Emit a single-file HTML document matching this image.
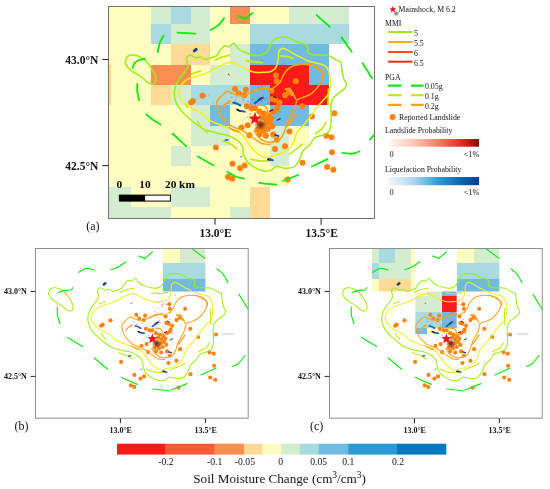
<!DOCTYPE html>
<html><head><meta charset="utf-8"><title>Soil Moisture Change</title>
<style>html,body{margin:0;padding:0;background:#fff}svg{display:block}</style></head>
<body>
<svg width="550" height="489" viewBox="0 0 550 489" font-family="'Liberation Serif', serif">
<defs>
<radialGradient id="brown"><stop offset="0" stop-color="#6a2a08" stop-opacity="1"/><stop offset="0.35" stop-color="#8a3c10" stop-opacity="0.92"/><stop offset="0.7" stop-color="#b06020" stop-opacity="0.5"/><stop offset="1" stop-color="#c08040" stop-opacity="0"/></radialGradient>
<radialGradient id="shadow"><stop offset="0" stop-color="#4a4a4a" stop-opacity="0.85"/><stop offset="0.5" stop-color="#6a6a6a" stop-opacity="0.5"/><stop offset="1" stop-color="#909090" stop-opacity="0"/></radialGradient>
<linearGradient id="lsg" x1="0" x2="1" y1="0" y2="0"><stop offset="0" stop-color="#fffaf7"/><stop offset="0.06" stop-color="#fff0e8"/><stop offset="0.35" stop-color="#ffb7a3"/><stop offset="0.7" stop-color="#fb4a3a"/><stop offset="0.85" stop-color="#e01c1c"/><stop offset="1" stop-color="#8e0608"/></linearGradient>
<linearGradient id="lqg" x1="0" x2="1" y1="0" y2="0"><stop offset="0" stop-color="#f4f9fe"/><stop offset="0.3" stop-color="#a9d4f0"/><stop offset="0.55" stop-color="#2a9fd4"/><stop offset="0.8" stop-color="#0a62b0"/><stop offset="1" stop-color="#043f94"/></linearGradient>
<clipPath id="clipA"><rect x="108.5" y="6.5" width="266" height="212"/></clipPath>
<clipPath id="clipB"><rect x="268.05" y="6.3" width="53.05" height="53.2"/></clipPath>
<clipPath id="clipC"><rect x="161.95" y="6.3" width="53.05" height="53.2"/><rect x="268.05" y="6.3" width="53.05" height="53.2"/><rect x="216.2" y="59.7" width="51.6" height="52.85"/></clipPath>

<g id="grid" shape-rendering="crispEdges">
<rect x="108.00" y="6.00" width="43.10" height="17.90" fill="#fffdbf"/>
<rect x="151.10" y="6.00" width="19.75" height="17.90" fill="#d4edd0"/>
<rect x="170.85" y="6.00" width="19.75" height="17.90" fill="#a8dbe0"/>
<rect x="190.60" y="6.00" width="19.75" height="17.90" fill="#d4edd0"/>
<rect x="210.35" y="6.00" width="19.75" height="17.90" fill="#fffdbf"/>
<rect x="230.10" y="6.00" width="19.75" height="17.90" fill="#fd8d50"/>
<rect x="249.85" y="6.00" width="39.50" height="17.90" fill="#fffdbf"/>
<rect x="289.35" y="6.00" width="59.25" height="17.90" fill="#d4edd0"/>
<rect x="108.00" y="23.90" width="43.10" height="20.40" fill="#fffdbf"/>
<rect x="151.10" y="23.90" width="19.75" height="20.40" fill="#a8dbe0"/>
<rect x="170.85" y="23.90" width="39.50" height="20.40" fill="#d4edd0"/>
<rect x="210.35" y="23.90" width="39.50" height="20.40" fill="#fffdbf"/>
<rect x="249.85" y="23.90" width="98.75" height="20.40" fill="#a8dbe0"/>
<rect x="108.00" y="44.30" width="62.85" height="20.50" fill="#fffdbf"/>
<rect x="170.85" y="44.30" width="39.50" height="20.50" fill="#fdda96"/>
<rect x="210.35" y="44.30" width="19.75" height="20.50" fill="#fffdbf"/>
<rect x="230.10" y="44.30" width="19.75" height="20.50" fill="#d4edd0"/>
<rect x="249.85" y="44.30" width="79.00" height="20.50" fill="#72bbe0"/>
<rect x="108.00" y="64.80" width="2.90" height="20.30" fill="#fdda96"/>
<rect x="110.90" y="64.80" width="40.20" height="20.30" fill="#fffdbf"/>
<rect x="151.10" y="64.80" width="39.50" height="20.30" fill="#fd8d50"/>
<rect x="190.60" y="64.80" width="19.75" height="20.30" fill="#fffdbf"/>
<rect x="210.35" y="64.80" width="39.50" height="20.30" fill="#d4edd0"/>
<rect x="249.85" y="64.80" width="59.25" height="20.30" fill="#fb1b18"/>
<rect x="309.10" y="64.80" width="19.75" height="20.30" fill="#72bbe0"/>
<rect x="108.00" y="85.10" width="2.90" height="20.30" fill="#fdda96"/>
<rect x="110.90" y="85.10" width="40.20" height="20.30" fill="#fffdbf"/>
<rect x="151.10" y="85.10" width="19.75" height="20.30" fill="#fdda96"/>
<rect x="170.85" y="85.10" width="19.75" height="20.30" fill="#d4edd0"/>
<rect x="190.60" y="85.10" width="59.25" height="20.30" fill="#a8dbe0"/>
<rect x="249.85" y="85.10" width="19.75" height="20.30" fill="#72bbe0"/>
<rect x="269.60" y="85.10" width="59.25" height="20.30" fill="#fb1b18"/>
<rect x="108.00" y="105.40" width="82.60" height="20.20" fill="#fffdbf"/>
<rect x="190.60" y="105.40" width="19.75" height="20.20" fill="#d4edd0"/>
<rect x="210.35" y="105.40" width="19.75" height="20.20" fill="#72bbe0"/>
<rect x="230.10" y="105.40" width="39.50" height="20.20" fill="#fffdbf"/>
<rect x="269.60" y="105.40" width="39.50" height="20.20" fill="#72bbe0"/>
<rect x="108.00" y="125.60" width="82.60" height="20.30" fill="#fffdbf"/>
<rect x="190.60" y="125.60" width="39.50" height="20.30" fill="#d4edd0"/>
<rect x="230.10" y="125.60" width="39.50" height="20.30" fill="#fffdbf"/>
<rect x="269.60" y="125.60" width="19.75" height="20.30" fill="#d4edd0"/>
<rect x="289.35" y="125.60" width="19.75" height="20.30" fill="#fffdbf"/>
<rect x="108.00" y="145.90" width="62.85" height="20.30" fill="#fffdbf"/>
<rect x="170.85" y="145.90" width="19.75" height="20.30" fill="#d4edd0"/>
<rect x="190.60" y="145.90" width="79.00" height="20.30" fill="#fffdbf"/>
<rect x="269.60" y="145.90" width="19.75" height="20.30" fill="#d4edd0"/>
<rect x="108.00" y="166.20" width="181.35" height="20.30" fill="#fffdbf"/>
<rect x="108.00" y="186.50" width="23.35" height="20.40" fill="#d4edd0"/>
<rect x="131.35" y="186.50" width="39.50" height="20.40" fill="#fffdbf"/>
<rect x="170.85" y="186.50" width="39.50" height="20.40" fill="#d4edd0"/>
<rect x="210.35" y="186.50" width="39.50" height="20.40" fill="#fffdbf"/>
<rect x="249.85" y="186.50" width="19.75" height="20.40" fill="#fdda96"/>
<rect x="108.00" y="206.90" width="62.85" height="12.10" fill="#d4edd0"/>
<rect x="170.85" y="206.90" width="59.25" height="12.10" fill="#fffdbf"/>
<rect x="230.10" y="206.90" width="19.75" height="12.10" fill="#d4edd0"/>
<rect x="249.85" y="206.90" width="19.75" height="12.10" fill="#fdda96"/>
</g>
<g id="ov" clip-path="url(#clipA)">
<g fill="#ff8212">
<circle cx="235.0" cy="88.9" r="3.0"/>
<circle cx="245.9" cy="89.8" r="3.0"/>
<circle cx="238.6" cy="93.5" r="3.0"/>
<circle cx="244.1" cy="95.3" r="3.0"/>
<circle cx="276.8" cy="81.3" r="3.0"/>
<circle cx="295.9" cy="81.3" r="3.0"/>
<circle cx="271.4" cy="90.7" r="3.0"/>
<circle cx="285.0" cy="95.3" r="3.0"/>
<circle cx="288.6" cy="92.5" r="3.0"/>
<circle cx="275.0" cy="99.8" r="3.0"/>
<circle cx="279.5" cy="102.5" r="3.0"/>
<circle cx="277.7" cy="107.1" r="3.0"/>
<circle cx="272.3" cy="98.9" r="3.0"/>
<circle cx="246.8" cy="106.2" r="3.0"/>
<circle cx="251.4" cy="108.0" r="3.0"/>
<circle cx="255.0" cy="108.0" r="3.0"/>
<circle cx="259.5" cy="111.6" r="3.0"/>
<circle cx="264.1" cy="113.5" r="3.0"/>
<circle cx="268.6" cy="115.3" r="3.0"/>
<circle cx="273.2" cy="111.6" r="3.0"/>
<circle cx="276.8" cy="109.8" r="3.0"/>
<circle cx="302.3" cy="106.2" r="3.0"/>
<circle cx="247.7" cy="125.3" r="3.0"/>
<circle cx="241.4" cy="127.5" r="3.0"/>
<circle cx="249.5" cy="135.3" r="3.0"/>
<circle cx="257.7" cy="129.8" r="3.0"/>
<circle cx="263.2" cy="130.7" r="3.0"/>
<circle cx="267.7" cy="128.9" r="3.0"/>
<circle cx="272.3" cy="126.2" r="3.0"/>
<circle cx="269.5" cy="122.5" r="3.0"/>
<circle cx="259.5" cy="134.4" r="3.0"/>
<circle cx="265.9" cy="135.8" r="3.0"/>
<circle cx="273.2" cy="134.4" r="3.0"/>
<circle cx="276.8" cy="139.8" r="3.0"/>
<circle cx="289.5" cy="131.6" r="3.0"/>
<circle cx="215.9" cy="147.5" r="3.0"/>
<circle cx="275.0" cy="148.9" r="3.0"/>
<circle cx="285.0" cy="146.2" r="3.0"/>
<circle cx="312.0" cy="116.4" r="3.0"/>
<circle cx="334.4" cy="113.3" r="3.0"/>
<circle cx="326.3" cy="135.7" r="3.0"/>
<circle cx="331.5" cy="137.2" r="3.0"/>
<circle cx="332.0" cy="152.3" r="3.0"/>
<circle cx="302.5" cy="162.8" r="3.0"/>
<circle cx="327.1" cy="167.0" r="3.0"/>
<circle cx="333.4" cy="169.8" r="3.0"/>
<circle cx="287.7" cy="179.6" r="3.0"/>
<circle cx="244.6" cy="165.6" r="3.0"/>
<circle cx="240.0" cy="168.3" r="3.0"/>
<circle cx="232.5" cy="163.8" r="3.0"/>
<circle cx="228.0" cy="176.9" r="3.0"/>
<circle cx="232.3" cy="178.7" r="3.0"/>
<circle cx="191.0" cy="102.4" r="3.0"/>
<circle cx="192.9" cy="101.0" r="3.0"/>
<circle cx="202.5" cy="95.7" r="3.0"/>
<circle cx="276.0" cy="75.4" r="3.0"/>
<circle cx="266.0" cy="119.0" r="3.0"/>
<circle cx="262.0" cy="117.0" r="3.0"/>
<circle cx="271.0" cy="118.5" r="3.0"/>
<circle cx="266.0" cy="124.0" r="3.0"/>
<circle cx="262.5" cy="127.0" r="3.0"/>
</g>
<circle cx="228.5" cy="74.2" r="0.7" fill="#e02020"/>
<circle cx="229.5" cy="75.0" r="0.5" fill="#e02020"/>
<circle cx="262.0" cy="60.5" r="0.5" fill="#e02020"/>
<circle cx="284.0" cy="64.0" r="0.5" fill="#e02020"/>
<circle cx="232.0" cy="97.0" r="0.5" fill="#e02020"/>
<circle cx="236.0" cy="99.0" r="0.4" fill="#e02020"/>
<circle cx="243.0" cy="100.0" r="0.5" fill="#e02020"/>
<circle cx="248.0" cy="101.5" r="0.6" fill="#e02020"/>
<circle cx="252.0" cy="99.5" r="0.5" fill="#e02020"/>
<circle cx="250.0" cy="104.0" r="0.5" fill="#e02020"/>
<circle cx="246.0" cy="112.0" r="0.5" fill="#e02020"/>
<circle cx="250.0" cy="114.0" r="0.6" fill="#e02020"/>
<circle cx="247.0" cy="117.0" r="0.5" fill="#e02020"/>
<circle cx="251.0" cy="120.0" r="0.5" fill="#e02020"/>
<circle cx="244.0" cy="119.0" r="0.4" fill="#e02020"/>
<circle cx="256.0" cy="112.0" r="0.5" fill="#e02020"/>
<circle cx="262.0" cy="101.0" r="0.6" fill="#e02020"/>
<circle cx="265.0" cy="99.0" r="0.5" fill="#e02020"/>
<circle cx="268.0" cy="103.0" r="0.6" fill="#e02020"/>
<circle cx="270.0" cy="105.0" r="0.5" fill="#e02020"/>
<circle cx="266.0" cy="108.0" r="0.5" fill="#e02020"/>
<circle cx="280.0" cy="112.0" r="0.5" fill="#e02020"/>
<circle cx="283.0" cy="108.0" r="0.4" fill="#e02020"/>
<circle cx="290.0" cy="101.0" r="0.5" fill="#e02020"/>
<circle cx="206.0" cy="96.0" r="0.4" fill="#e02020"/>
<circle cx="209.0" cy="95.0" r="0.4" fill="#e02020"/>
<circle cx="213.0" cy="103.0" r="0.4" fill="#e02020"/>
<circle cx="262.1" cy="73.1" r="0.7" fill="#e02020"/>
<circle cx="268.5" cy="72.7" r="0.4" fill="#e02020"/>
<circle cx="266.4" cy="97.5" r="0.4" fill="#e02020"/>
<circle cx="261.8" cy="86.1" r="0.6" fill="#e02020"/>
<circle cx="276.3" cy="94.8" r="0.6" fill="#e02020"/>
<circle cx="261.6" cy="97.8" r="0.6" fill="#e02020"/>
<circle cx="276.8" cy="75.8" r="0.6" fill="#e02020"/>
<circle cx="263.5" cy="96.0" r="0.6" fill="#e02020"/>
<circle cx="258.3" cy="88.2" r="0.7" fill="#e02020"/>
<circle cx="269.2" cy="75.3" r="0.7" fill="#e02020"/>
<circle cx="263.3" cy="98.3" r="0.6" fill="#e02020"/>
<circle cx="256.2" cy="78.8" r="0.6" fill="#e02020"/>
<circle cx="278.0" cy="85.3" r="0.7" fill="#e02020"/>
<circle cx="267.0" cy="78.6" r="0.7" fill="#e02020"/>
<circle cx="260.2" cy="79.2" r="0.4" fill="#e02020"/>
<circle cx="258.1" cy="83.9" r="0.6" fill="#e02020"/>
<circle cx="269.5" cy="89.4" r="0.6" fill="#e02020"/>
<circle cx="259.8" cy="90.2" r="0.4" fill="#e02020"/>
<circle cx="266.7" cy="76.1" r="0.7" fill="#e02020"/>
<circle cx="263.2" cy="80.7" r="0.6" fill="#e02020"/>
<circle cx="272.5" cy="76.0" r="0.6" fill="#e02020"/>
<circle cx="258.6" cy="71.8" r="0.5" fill="#e02020"/>
<circle cx="263.2" cy="87.5" r="0.5" fill="#e02020"/>
<circle cx="259.2" cy="98.0" r="0.6" fill="#e02020"/>
<circle cx="267.9" cy="71.3" r="0.4" fill="#e02020"/>
<circle cx="279.3" cy="98.6" r="0.6" fill="#e02020"/>
<circle cx="228.4" cy="103.5" r="0.4" fill="#e02020"/>
<circle cx="246.6" cy="106.7" r="0.4" fill="#e02020"/>
<circle cx="235.0" cy="101.0" r="0.5" fill="#e02020"/>
<circle cx="235.0" cy="102.5" r="0.4" fill="#e02020"/>
<circle cx="236.0" cy="96.2" r="0.4" fill="#e02020"/>
<circle cx="238.9" cy="105.5" r="0.5" fill="#e02020"/>
<circle cx="251.9" cy="110.9" r="0.5" fill="#e02020"/>
<circle cx="251.6" cy="107.0" r="0.4" fill="#e02020"/>
<circle cx="230.7" cy="97.6" r="0.4" fill="#e02020"/>
<circle cx="242.3" cy="121.2" r="0.4" fill="#e02020"/>
<path d="M128.2 55.9C127.2 56.5 126.3 58.7 126.0 59.6C125.7 60.5 125.2 62.2 125.5 63.2C125.8 64.2 127.2 66.6 128.2 67.8C129.2 69.0 132.2 71.3 133.7 72.3C135.2 73.3 138.5 75.0 140.0 76.0C141.5 77.0 144.3 79.6 145.5 80.5C146.7 81.4 148.2 82.9 149.2 83.3C150.2 83.7 152.9 84.2 153.7 83.8C154.5 83.4 155.7 81.5 155.9 80.5C156.1 79.5 155.9 77.3 155.5 76.0C155.1 74.7 153.6 71.9 152.8 70.5C152.0 69.1 150.2 66.4 149.2 65.0C148.2 63.6 145.9 60.7 144.6 59.6C143.3 58.5 140.5 57.1 139.1 56.5C137.7 55.9 135.1 55.1 133.7 55.0C132.3 54.9 129.2 55.3 128.2 55.9Z" fill="none" stroke="#9aee16" stroke-width="1.5" stroke-linejoin="round" stroke-linecap="round"/>
<path d="M174.3 93.0C174.3 91.0 175.1 87.6 175.7 85.8C176.3 84.0 178.1 80.4 179.3 78.6C180.5 76.8 184.0 73.1 185.1 71.5C186.2 69.9 187.7 67.0 187.9 65.7C188.1 64.4 187.0 62.0 186.8 61.0C186.6 60.0 186.1 58.6 186.5 57.8C186.9 57.0 188.9 55.0 190.1 55.0C191.3 55.0 194.2 57.6 195.6 57.8C197.0 58.0 199.8 56.7 201.1 56.9C202.4 57.1 204.3 59.5 205.5 59.6C206.7 59.7 209.5 58.3 210.9 57.8C212.3 57.3 215.2 56.8 216.4 55.9C217.6 55.0 219.0 51.8 220.0 50.5C221.0 49.2 223.4 46.4 224.6 45.9C225.8 45.4 227.9 47.1 229.1 46.8C230.3 46.5 232.5 43.0 233.7 43.2C234.9 43.4 236.9 47.5 238.3 48.7C239.7 49.9 242.8 51.5 244.6 52.3C246.4 53.1 250.8 54.6 252.8 55.0C254.8 55.4 258.4 55.7 260.1 55.4C261.8 55.1 265.2 53.5 266.5 52.3C267.8 51.1 269.3 47.4 270.1 45.9C270.9 44.4 271.9 41.5 272.9 40.5C273.9 39.5 276.7 38.1 278.3 37.7C279.9 37.3 283.8 37.0 285.6 37.2C287.4 37.4 291.4 39.0 292.9 39.6C294.4 40.2 295.8 41.7 297.3 42.3C298.8 42.9 303.2 43.4 304.6 44.1C306.0 44.8 307.9 46.8 308.2 47.8C308.5 48.8 306.6 51.4 307.3 52.3C308.0 53.2 311.7 54.7 313.7 55.0C315.7 55.3 320.8 54.9 322.8 55.0C324.8 55.1 327.6 55.3 329.2 55.9C330.8 56.5 334.0 58.8 335.5 59.6C337.0 60.4 340.2 61.0 341.0 62.3C341.8 63.6 341.6 67.5 341.9 69.6C342.2 71.7 343.1 76.9 343.7 78.7C344.3 80.5 346.3 83.0 346.5 84.2C346.7 85.4 345.8 87.2 344.9 88.3C344.0 89.4 340.9 91.5 339.5 92.6C338.1 93.7 335.1 95.8 334.1 97.0C333.1 98.2 331.7 100.7 331.3 102.4C330.9 104.1 330.8 108.2 330.8 110.1C330.8 112.0 331.3 115.8 331.3 117.7C331.3 119.6 331.1 123.5 330.8 125.3C330.5 127.1 329.7 130.6 328.6 131.9C327.5 133.2 323.9 134.4 322.1 135.2C320.3 136.0 316.0 136.7 314.4 138.0C312.8 139.3 310.7 143.9 309.2 145.5C307.7 147.1 304.0 149.4 302.8 151.0C301.6 152.6 301.1 156.3 300.1 158.3C299.1 160.3 296.4 165.2 294.6 166.5C292.8 167.8 287.8 168.3 285.5 168.3C283.2 168.3 278.2 166.3 276.4 166.5C274.6 166.7 272.6 169.5 271.0 170.1C269.4 170.7 265.8 171.3 263.7 171.0C261.6 170.7 256.7 168.6 254.6 167.4C252.5 166.2 248.7 163.5 247.3 161.9C245.9 160.3 244.2 156.4 243.6 154.6C243.0 152.8 243.2 148.9 242.7 147.4C242.2 145.9 240.9 143.8 240.0 142.8C239.1 141.8 237.1 140.1 235.6 139.2C234.1 138.3 230.4 136.2 228.3 135.5C226.2 134.8 221.5 134.2 219.2 133.7C216.9 133.2 212.1 131.9 210.1 131.3C208.1 130.7 205.4 130.2 203.7 129.3C202.0 128.4 198.5 126.0 196.5 124.5C194.5 123.0 189.9 119.1 187.9 117.3C185.9 115.5 182.3 112.1 180.8 110.1C179.3 108.1 176.5 103.7 175.7 101.5C174.9 99.3 174.3 95.0 174.3 93.0Z" fill="none" stroke="#9aee16" stroke-width="1.5" stroke-linejoin="round" stroke-linecap="round"/>
<path d="M178.6 93.0C178.5 91.5 179.3 88.7 180.0 87.2C180.7 85.7 182.9 82.7 184.3 81.5C185.7 80.3 188.7 78.7 190.8 77.9C192.9 77.1 198.7 75.7 200.8 75.0C202.9 74.3 205.3 73.5 207.3 72.6C209.3 71.7 214.3 68.9 216.4 67.8C218.5 66.7 221.7 64.8 223.7 64.1C225.7 63.4 230.1 62.2 231.9 62.3C233.7 62.4 236.6 64.3 238.3 65.1C240.0 65.9 243.4 67.8 245.5 68.7C247.6 69.6 252.1 71.9 254.6 72.3C257.1 72.7 262.9 72.3 265.0 72.2C267.1 72.1 269.5 72.0 270.8 71.5C272.1 71.0 274.4 69.5 275.2 68.5C276.0 67.5 277.0 64.9 277.4 63.5C277.8 62.1 278.2 59.1 278.4 57.6C278.6 56.1 278.3 53.0 278.8 51.8C279.3 50.6 281.3 48.4 282.5 48.2C283.7 48.0 286.8 49.7 288.3 50.4C289.8 51.1 292.6 53.2 294.1 54.0C295.6 54.8 298.2 56.1 299.9 56.9C301.6 57.7 305.4 59.8 307.2 60.5C309.0 61.2 312.5 62.1 314.5 62.7C316.5 63.3 321.6 64.2 323.2 64.9C324.8 65.6 326.7 67.2 327.5 68.5C328.3 69.8 329.3 73.2 329.7 75.1C330.1 77.0 330.5 81.8 330.5 83.8C330.5 85.8 329.9 89.0 329.5 90.5C329.1 92.0 328.4 94.1 327.5 95.5C326.6 96.9 323.5 99.8 322.1 101.4C320.7 103.0 318.0 106.1 316.6 107.9C315.2 109.7 312.9 113.3 311.2 115.5C309.5 117.7 305.3 123.2 303.5 125.3C301.7 127.4 298.1 130.1 297.0 132.0C295.9 133.9 295.4 138.0 294.5 140.0C293.6 142.0 291.8 146.3 290.0 148.0C288.2 149.7 282.5 152.6 280.1 153.7C277.7 154.8 273.1 156.0 271.0 156.5C268.9 157.0 265.8 158.1 263.7 157.4C261.6 156.7 256.7 153.0 254.6 151.0C252.5 149.0 248.8 143.9 247.3 141.9C245.8 139.9 244.4 137.0 242.9 135.5C241.4 134.0 237.7 131.1 235.6 130.1C233.5 129.1 228.6 128.0 226.5 127.3C224.4 126.6 221.6 125.4 219.4 124.5C217.2 123.6 211.6 121.6 209.4 120.2C207.2 118.8 204.2 115.1 202.2 113.7C200.2 112.3 195.7 110.5 193.7 109.4C191.7 108.3 188.1 106.5 186.5 105.1C184.9 103.7 181.8 100.2 180.8 98.7C179.8 97.2 178.7 94.5 178.6 93.0Z" fill="none" stroke="#f2f01c" stroke-width="1.5" stroke-linejoin="round" stroke-linecap="round"/>
<path d="M266.8 88.0C267.2 88.2 269.1 89.7 270.1 89.6C271.1 89.5 273.4 87.8 274.7 86.9C276.0 86.0 279.1 83.8 280.1 82.4C281.1 81.0 282.0 77.6 282.9 76.0C283.8 74.4 286.1 70.9 287.4 69.6C288.7 68.3 291.3 66.6 292.9 66.0C294.5 65.4 298.5 64.7 300.0 64.5C301.5 64.3 303.1 64.4 304.6 64.5C306.1 64.6 310.1 64.6 311.9 65.1C313.7 65.6 317.6 67.5 319.1 68.7C320.6 69.9 323.3 72.7 323.7 74.2C324.1 75.7 322.7 78.8 321.9 80.5C321.1 82.2 318.6 86.2 317.3 87.8C316.0 89.4 313.5 92.1 311.9 93.3C310.3 94.5 306.4 96.1 304.6 96.9C302.8 97.7 298.5 98.5 297.3 99.7C296.1 100.9 295.9 104.7 295.5 106.0C295.1 107.3 294.9 108.8 294.3 110.1C293.7 111.4 291.4 114.9 290.5 116.6C289.6 118.3 288.0 121.9 287.4 123.3C286.8 124.7 285.9 126.8 285.5 128.0C285.1 129.2 284.7 131.5 284.0 133.0C283.3 134.5 280.9 138.5 280.0 139.5C279.1 140.5 278.0 140.3 276.8 140.7C275.6 141.1 272.2 142.5 270.5 142.5C268.8 142.5 264.8 141.5 263.2 140.7C261.6 139.9 258.9 137.5 257.7 136.2C256.5 134.9 254.6 131.4 254.1 130.7" fill="none" stroke="#ffa01e" stroke-width="1.5" stroke-linejoin="round" stroke-linecap="round"/>
<path d="M285.0 89.4C285.6 89.3 288.4 87.9 289.4 88.3C290.4 88.7 291.8 91.2 292.6 92.6C293.4 94.0 295.5 98.4 295.9 99.2" fill="none" stroke="#ffa01e" stroke-width="1.5" stroke-linejoin="round" stroke-linecap="round"/>
<path d="M266.8 88.0C265.9 88.1 261.6 88.3 259.5 88.9C257.4 89.5 252.5 91.6 250.5 92.5C248.5 93.4 245.6 95.8 244.1 96.2C242.6 96.6 240.1 95.6 238.6 95.3C237.1 95.0 233.8 94.0 232.3 93.5C230.8 93.0 228.2 91.3 226.8 91.6C225.4 91.9 222.7 94.9 221.4 96.2C220.1 97.5 217.3 100.0 216.8 101.6C216.3 103.2 217.2 107.2 217.7 108.9C218.2 110.6 219.6 113.8 220.5 115.3C221.4 116.8 223.7 119.4 225.0 120.7C226.3 122.0 229.1 124.4 230.5 125.3C231.9 126.2 234.5 127.4 235.9 128.0C237.3 128.6 239.8 129.0 241.4 129.8C243.0 130.6 247.0 133.3 248.6 134.4C250.2 135.5 252.3 137.3 254.0 138.5C255.7 139.7 260.0 142.7 262.0 143.5C264.0 144.3 269.0 144.4 270.0 144.5" fill="none" stroke="#ffa01e" stroke-width="1.5" stroke-linejoin="round" stroke-linecap="round"/>
<path d="M257.7 105.3C258.6 105.4 263.7 105.4 265.0 106.2C266.3 107.0 267.5 110.3 267.7 111.6C267.9 112.9 266.9 115.6 266.8 116.2" fill="none" stroke="#ffa01e" stroke-width="1.5" stroke-linejoin="round" stroke-linecap="round"/>
<path d="M163.4 35.9C163.0 36.7 160.8 40.3 160.1 42.3C159.4 44.3 158.0 50.6 157.7 51.8" fill="none" stroke="#12e812" stroke-width="1.85" stroke-linejoin="round" stroke-linecap="round"/>
<path d="M145.0 59.0C144.3 59.1 140.4 59.5 139.1 60.0C137.8 60.5 135.4 62.2 134.6 63.2C133.8 64.2 133.0 67.2 132.8 67.8" fill="none" stroke="#12e812" stroke-width="1.85" stroke-linejoin="round" stroke-linecap="round"/>
<path d="M137.3 83.8C137.3 84.8 137.1 89.4 137.3 91.5C137.5 93.6 138.9 99.1 139.1 100.2" fill="none" stroke="#12e812" stroke-width="1.85" stroke-linejoin="round" stroke-linecap="round"/>
<path d="M146.4 114.2C147.0 114.7 149.2 117.2 151.0 118.5C152.8 119.8 159.4 123.8 160.6 124.6" fill="none" stroke="#12e812" stroke-width="1.85" stroke-linejoin="round" stroke-linecap="round"/>
<path d="M172.8 133.7 L186.4 146.4" fill="none" stroke="#12e812" stroke-width="1.85" stroke-linejoin="round" stroke-linecap="round"/>
<path d="M197.7 156.5 L213.4 165.2" fill="none" stroke="#12e812" stroke-width="1.85" stroke-linejoin="round" stroke-linecap="round"/>
<path d="M227.4 172.0C228.4 172.6 233.5 175.7 235.6 176.5C237.7 177.3 242.8 178.4 243.8 178.7" fill="none" stroke="#12e812" stroke-width="1.85" stroke-linejoin="round" stroke-linecap="round"/>
<path d="M259.1 182.9C260.1 183.0 265.1 183.6 267.3 183.8C269.5 184.0 275.2 184.6 276.4 184.7" fill="none" stroke="#12e812" stroke-width="1.85" stroke-linejoin="round" stroke-linecap="round"/>
<path d="M282.8 181.0 L298.3 175.0" fill="none" stroke="#12e812" stroke-width="1.85" stroke-linejoin="round" stroke-linecap="round"/>
<path d="M311.9 166.5 L327.4 159.2" fill="none" stroke="#12e812" stroke-width="1.85" stroke-linejoin="round" stroke-linecap="round"/>
<path d="M342.3 152.9C343.6 153.0 350.7 153.9 352.9 153.7C355.1 153.5 358.6 151.7 359.4 151.4" fill="none" stroke="#12e812" stroke-width="1.85" stroke-linejoin="round" stroke-linecap="round"/>
<path d="M376.0 133.0 L370.0 139.4" fill="none" stroke="#12e812" stroke-width="1.85" stroke-linejoin="round" stroke-linecap="round"/>
<path d="M362.6 63.2 L372.1 78.3" fill="none" stroke="#12e812" stroke-width="1.85" stroke-linejoin="round" stroke-linecap="round"/>
<path d="M341.6 37.4 L351.7 51.8" fill="none" stroke="#12e812" stroke-width="1.85" stroke-linejoin="round" stroke-linecap="round"/>
<path d="M316.6 15.1 L329.7 26.8" fill="none" stroke="#12e812" stroke-width="1.85" stroke-linejoin="round" stroke-linecap="round"/>
<path d="M238.1 16.0 L245.4 18.9" fill="none" stroke="#12e812" stroke-width="1.85" stroke-linejoin="round" stroke-linecap="round"/>
<path d="M245.0 19.1 L252.6 13.1" fill="none" stroke="#12e812" stroke-width="1.85" stroke-linejoin="round" stroke-linecap="round"/>
<path d="M210.6 30.0C211.6 29.4 216.5 26.9 218.2 25.4C219.9 23.9 223.4 19.2 224.1 18.3" fill="none" stroke="#12e812" stroke-width="1.85" stroke-linejoin="round" stroke-linecap="round"/>
<path d="M177.5 32.6 L195.3 33.6" fill="none" stroke="#12e812" stroke-width="1.85" stroke-linejoin="round" stroke-linecap="round"/>
<path d="M214.6 60.5C215.5 60.1 219.9 57.9 221.9 57.2C223.9 56.5 229.1 55.3 230.1 55.0" fill="none" stroke="#c8e81a" stroke-width="1.85" stroke-linejoin="round" stroke-linecap="butt"/>
<path d="M245.5 60.5C246.7 60.7 252.4 61.8 254.6 62.0C256.8 62.2 261.8 62.3 262.8 62.3" fill="none" stroke="#c8e81a" stroke-width="1.85" stroke-linejoin="round" stroke-linecap="butt"/>
<path d="M280.1 55.9C281.0 56.0 285.7 56.1 287.4 56.5C289.1 56.9 293.0 58.4 293.8 58.7" fill="none" stroke="#c8e81a" stroke-width="1.85" stroke-linejoin="round" stroke-linecap="butt"/>
<path d="M328.6 88.3 L328.1 105.7" fill="none" stroke="#c8e81a" stroke-width="1.85" stroke-linejoin="round" stroke-linecap="butt"/>
<path d="M326.4 122.1C325.9 122.9 323.5 127.1 322.1 128.6C320.7 130.1 315.9 133.4 315.0 134.1" fill="none" stroke="#c8e81a" stroke-width="1.85" stroke-linejoin="round" stroke-linecap="butt"/>
<path d="M289.2 154.6 L302.8 143.7" fill="none" stroke="#c8e81a" stroke-width="1.85" stroke-linejoin="round" stroke-linecap="butt"/>
<path d="M250.0 159.2C251.3 159.4 257.6 160.8 260.0 161.0C262.4 161.2 267.9 161.0 269.1 161.0" fill="none" stroke="#c8e81a" stroke-width="1.85" stroke-linejoin="round" stroke-linecap="butt"/>
<path d="M221.9 141.0C222.9 141.3 228.1 142.7 230.1 143.7C232.1 144.7 236.5 148.5 237.4 149.2" fill="none" stroke="#c8e81a" stroke-width="1.85" stroke-linejoin="round" stroke-linecap="butt"/>
<path d="M197.2 120.9C197.7 121.7 199.6 125.4 201.0 127.0C202.4 128.6 207.0 132.4 207.9 133.2" fill="none" stroke="#c8e81a" stroke-width="1.85" stroke-linejoin="round" stroke-linecap="butt"/>
<path d="M185.1 103.7 L187.9 108.0" fill="none" stroke="#c8e81a" stroke-width="1.85" stroke-linejoin="round" stroke-linecap="butt"/>
<path d="M191.0 74.5C191.6 74.2 194.7 72.8 196.0 72.3C197.3 71.8 200.5 70.9 201.2 70.7" fill="none" stroke="#c8e81a" stroke-width="1.85" stroke-linejoin="round" stroke-linecap="butt"/>
<path d="M250.5 92.7C251.5 92.3 255.8 90.1 258.1 89.5C260.4 88.9 267.0 87.8 268.3 87.6" fill="none" stroke="#ffa01e" stroke-width="2.00" stroke-linejoin="round" stroke-linecap="butt"/>
<path d="M221.4 108.9C221.9 108.3 223.8 105.4 225.0 104.4C226.2 103.4 229.8 101.2 230.5 100.7" fill="none" stroke="#ffa01e" stroke-width="2.00" stroke-linejoin="round" stroke-linecap="butt"/>
<path d="M228.6 127.1C229.3 127.6 232.7 130.1 234.1 130.7C235.5 131.3 238.8 131.5 239.5 131.6" fill="none" stroke="#ffa01e" stroke-width="2.00" stroke-linejoin="round" stroke-linecap="butt"/>
<path d="M285.0 88.9C285.7 89.1 289.3 89.8 290.5 90.7C291.7 91.6 293.6 95.5 294.1 96.2" fill="none" stroke="#ffa01e" stroke-width="2.00" stroke-linejoin="round" stroke-linecap="butt"/>
<path d="M295.9 113.4C295.5 114.1 293.8 117.1 292.6 118.8C291.4 120.5 286.9 126.0 286.1 127.0" fill="none" stroke="#ffa01e" stroke-width="2.00" stroke-linejoin="round" stroke-linecap="butt"/>
<path d="M290.0 89.6 L292.2 96.0" fill="none" stroke="#ffa01e" stroke-width="2.00" stroke-linejoin="round" stroke-linecap="butt"/>
<path d="M309.4 64.4C310.2 64.7 314.3 66.1 315.9 67.1C317.5 68.1 321.4 70.8 322.3 72.2C323.2 73.6 323.1 77.3 323.2 78.0" fill="none" stroke="#ffa01e" stroke-width="2.00" stroke-linejoin="round" stroke-linecap="butt"/>
<path d="M233.3 102.7C233.8 102.8 236.1 103.2 237.0 103.6C237.9 104.0 239.9 105.3 240.3 105.5" fill="none" stroke="#1b62b6" stroke-width="2.1" stroke-linejoin="round" stroke-linecap="round"/>
<path d="M237.1 109.5C237.3 109.6 238.5 110.4 239.0 110.6C239.5 110.8 240.7 111.1 240.9 111.2" fill="none" stroke="#10161c" stroke-width="1.9" stroke-linejoin="round" stroke-linecap="round"/>
<path d="M240.6 110.7C240.9 110.8 242.1 111.2 242.6 111.3C243.1 111.4 244.4 111.6 244.7 111.6" fill="none" stroke="#1b62b6" stroke-width="1.9" stroke-linejoin="round" stroke-linecap="round"/>
<path d="M254.9 103.2C255.4 102.8 257.7 101.1 258.7 100.4C259.7 99.7 262.0 98.1 262.5 97.8" fill="none" stroke="#1b62b6" stroke-width="2.2" stroke-linejoin="round" stroke-linecap="round"/>
<path d="M258.2 99.8 L261.5 97.7" fill="none" stroke="#0c2c58" stroke-width="1.0" stroke-linejoin="round" stroke-linecap="round"/>
<path d="M275.3 135.0 L278.5 136.0" fill="none" stroke="#0c3c78" stroke-width="1.8" stroke-linejoin="round" stroke-linecap="round"/>
<path d="M273.4 96.5 L276.0 97.8" fill="none" stroke="#30120c" stroke-width="1.1" stroke-linejoin="round" stroke-linecap="round"/>
<path d="M269.5 111.2 L272.7 109.9" fill="none" stroke="#30120c" stroke-width="1.2" stroke-linejoin="round" stroke-linecap="round"/>
<path d="M225.3 140.2 L227.8 139.8" fill="none" stroke="#1a70c0" stroke-width="1.7" stroke-linejoin="round" stroke-linecap="round"/>
<path d="M268.2 159.4 L270.4 159.6" fill="none" stroke="#0a1c30" stroke-width="2.2" stroke-linejoin="round" stroke-linecap="round"/>
<path d="M270.0 159.5 L272.8 160.2" fill="none" stroke="#1560b4" stroke-width="2.0" stroke-linejoin="round" stroke-linecap="round"/>
<path d="M277.0 120.2 L280.2 118.6" fill="none" stroke="#0b3c78" stroke-width="1.2" stroke-linejoin="round" stroke-linecap="round"/>
<path d="M240.6 156.8 L241.8 156.8" fill="none" stroke="#4a90d0" stroke-width="1.2" stroke-linejoin="round" stroke-linecap="round"/>
<path d="M194.3 50.9 L196.2 49.4" fill="none" stroke="#0e4576" stroke-width="3.0" stroke-linejoin="round" stroke-linecap="round"/>
<circle cx="257.8" cy="121.8" r="3.2" fill="#d8d8c8" opacity="0.6"/>
<circle cx="260.5" cy="124.6" r="6.6" fill="url(#brown)"/>
<polygon points="254.95,112.00 256.65,116.45 261.42,116.70 257.71,119.70 258.95,124.30 254.95,121.70 250.95,124.30 252.19,119.70 248.48,116.70 253.25,116.45" fill="#f3141c"/>
</g>
<g id="ovs" clip-path="url(#clipA)">
<g fill="#ff8212">
<circle cx="235.0" cy="88.9" r="2.6"/>
<circle cx="245.9" cy="89.8" r="2.6"/>
<circle cx="238.6" cy="93.5" r="2.6"/>
<circle cx="244.1" cy="95.3" r="2.6"/>
<circle cx="276.8" cy="81.3" r="2.6"/>
<circle cx="295.9" cy="81.3" r="2.6"/>
<circle cx="271.4" cy="90.7" r="2.6"/>
<circle cx="285.0" cy="95.3" r="2.6"/>
<circle cx="288.6" cy="92.5" r="2.6"/>
<circle cx="275.0" cy="99.8" r="2.6"/>
<circle cx="279.5" cy="102.5" r="2.6"/>
<circle cx="277.7" cy="107.1" r="2.6"/>
<circle cx="272.3" cy="98.9" r="2.6"/>
<circle cx="246.8" cy="106.2" r="2.6"/>
<circle cx="251.4" cy="108.0" r="2.6"/>
<circle cx="255.0" cy="108.0" r="2.6"/>
<circle cx="259.5" cy="111.6" r="2.6"/>
<circle cx="264.1" cy="113.5" r="2.6"/>
<circle cx="268.6" cy="115.3" r="2.6"/>
<circle cx="273.2" cy="111.6" r="2.6"/>
<circle cx="276.8" cy="109.8" r="2.6"/>
<circle cx="302.3" cy="106.2" r="2.6"/>
<circle cx="247.7" cy="125.3" r="2.6"/>
<circle cx="241.4" cy="127.5" r="2.6"/>
<circle cx="249.5" cy="135.3" r="2.6"/>
<circle cx="257.7" cy="129.8" r="2.6"/>
<circle cx="263.2" cy="130.7" r="2.6"/>
<circle cx="267.7" cy="128.9" r="2.6"/>
<circle cx="272.3" cy="126.2" r="2.6"/>
<circle cx="269.5" cy="122.5" r="2.6"/>
<circle cx="259.5" cy="134.4" r="2.6"/>
<circle cx="265.9" cy="135.8" r="2.6"/>
<circle cx="273.2" cy="134.4" r="2.6"/>
<circle cx="276.8" cy="139.8" r="2.6"/>
<circle cx="289.5" cy="131.6" r="2.6"/>
<circle cx="215.9" cy="147.5" r="2.6"/>
<circle cx="275.0" cy="148.9" r="2.6"/>
<circle cx="285.0" cy="146.2" r="2.6"/>
<circle cx="312.0" cy="116.4" r="2.6"/>
<circle cx="334.4" cy="113.3" r="2.6"/>
<circle cx="326.3" cy="135.7" r="2.6"/>
<circle cx="331.5" cy="137.2" r="2.6"/>
<circle cx="332.0" cy="152.3" r="2.6"/>
<circle cx="302.5" cy="162.8" r="2.6"/>
<circle cx="327.1" cy="167.0" r="2.6"/>
<circle cx="333.4" cy="169.8" r="2.6"/>
<circle cx="287.7" cy="179.6" r="2.6"/>
<circle cx="244.6" cy="165.6" r="2.6"/>
<circle cx="240.0" cy="168.3" r="2.6"/>
<circle cx="232.5" cy="163.8" r="2.6"/>
<circle cx="228.0" cy="176.9" r="2.6"/>
<circle cx="232.3" cy="178.7" r="2.6"/>
<circle cx="191.0" cy="102.4" r="2.6"/>
<circle cx="192.9" cy="101.0" r="2.6"/>
<circle cx="202.5" cy="95.7" r="2.6"/>
<circle cx="276.0" cy="75.4" r="2.6"/>
<circle cx="266.0" cy="119.0" r="2.6"/>
<circle cx="262.0" cy="117.0" r="2.6"/>
<circle cx="271.0" cy="118.5" r="2.6"/>
<circle cx="266.0" cy="124.0" r="2.6"/>
<circle cx="262.5" cy="127.0" r="2.6"/>
</g>
<circle cx="228.5" cy="74.2" r="0.7" fill="#e02020"/>
<circle cx="229.5" cy="75.0" r="0.5" fill="#e02020"/>
<circle cx="262.0" cy="60.5" r="0.5" fill="#e02020"/>
<circle cx="284.0" cy="64.0" r="0.5" fill="#e02020"/>
<circle cx="232.0" cy="97.0" r="0.5" fill="#e02020"/>
<circle cx="236.0" cy="99.0" r="0.4" fill="#e02020"/>
<circle cx="243.0" cy="100.0" r="0.5" fill="#e02020"/>
<circle cx="248.0" cy="101.5" r="0.6" fill="#e02020"/>
<circle cx="252.0" cy="99.5" r="0.5" fill="#e02020"/>
<circle cx="250.0" cy="104.0" r="0.5" fill="#e02020"/>
<circle cx="246.0" cy="112.0" r="0.5" fill="#e02020"/>
<circle cx="250.0" cy="114.0" r="0.6" fill="#e02020"/>
<circle cx="247.0" cy="117.0" r="0.5" fill="#e02020"/>
<circle cx="251.0" cy="120.0" r="0.5" fill="#e02020"/>
<circle cx="244.0" cy="119.0" r="0.4" fill="#e02020"/>
<circle cx="256.0" cy="112.0" r="0.5" fill="#e02020"/>
<circle cx="262.0" cy="101.0" r="0.6" fill="#e02020"/>
<circle cx="265.0" cy="99.0" r="0.5" fill="#e02020"/>
<circle cx="268.0" cy="103.0" r="0.6" fill="#e02020"/>
<circle cx="270.0" cy="105.0" r="0.5" fill="#e02020"/>
<circle cx="266.0" cy="108.0" r="0.5" fill="#e02020"/>
<circle cx="280.0" cy="112.0" r="0.5" fill="#e02020"/>
<circle cx="283.0" cy="108.0" r="0.4" fill="#e02020"/>
<circle cx="290.0" cy="101.0" r="0.5" fill="#e02020"/>
<circle cx="206.0" cy="96.0" r="0.4" fill="#e02020"/>
<circle cx="209.0" cy="95.0" r="0.4" fill="#e02020"/>
<circle cx="213.0" cy="103.0" r="0.4" fill="#e02020"/>
<circle cx="262.1" cy="73.1" r="0.7" fill="#e02020"/>
<circle cx="268.5" cy="72.7" r="0.4" fill="#e02020"/>
<circle cx="266.4" cy="97.5" r="0.4" fill="#e02020"/>
<circle cx="261.8" cy="86.1" r="0.6" fill="#e02020"/>
<circle cx="276.3" cy="94.8" r="0.6" fill="#e02020"/>
<circle cx="261.6" cy="97.8" r="0.6" fill="#e02020"/>
<circle cx="276.8" cy="75.8" r="0.6" fill="#e02020"/>
<circle cx="263.5" cy="96.0" r="0.6" fill="#e02020"/>
<circle cx="258.3" cy="88.2" r="0.7" fill="#e02020"/>
<circle cx="269.2" cy="75.3" r="0.7" fill="#e02020"/>
<circle cx="263.3" cy="98.3" r="0.6" fill="#e02020"/>
<circle cx="256.2" cy="78.8" r="0.6" fill="#e02020"/>
<circle cx="278.0" cy="85.3" r="0.7" fill="#e02020"/>
<circle cx="267.0" cy="78.6" r="0.7" fill="#e02020"/>
<circle cx="260.2" cy="79.2" r="0.4" fill="#e02020"/>
<circle cx="258.1" cy="83.9" r="0.6" fill="#e02020"/>
<circle cx="269.5" cy="89.4" r="0.6" fill="#e02020"/>
<circle cx="259.8" cy="90.2" r="0.4" fill="#e02020"/>
<circle cx="266.7" cy="76.1" r="0.7" fill="#e02020"/>
<circle cx="263.2" cy="80.7" r="0.6" fill="#e02020"/>
<circle cx="272.5" cy="76.0" r="0.6" fill="#e02020"/>
<circle cx="258.6" cy="71.8" r="0.5" fill="#e02020"/>
<circle cx="263.2" cy="87.5" r="0.5" fill="#e02020"/>
<circle cx="259.2" cy="98.0" r="0.6" fill="#e02020"/>
<circle cx="267.9" cy="71.3" r="0.4" fill="#e02020"/>
<circle cx="279.3" cy="98.6" r="0.6" fill="#e02020"/>
<circle cx="228.4" cy="103.5" r="0.4" fill="#e02020"/>
<circle cx="246.6" cy="106.7" r="0.4" fill="#e02020"/>
<circle cx="235.0" cy="101.0" r="0.5" fill="#e02020"/>
<circle cx="235.0" cy="102.5" r="0.4" fill="#e02020"/>
<circle cx="236.0" cy="96.2" r="0.4" fill="#e02020"/>
<circle cx="238.9" cy="105.5" r="0.5" fill="#e02020"/>
<circle cx="251.9" cy="110.9" r="0.5" fill="#e02020"/>
<circle cx="251.6" cy="107.0" r="0.4" fill="#e02020"/>
<circle cx="230.7" cy="97.6" r="0.4" fill="#e02020"/>
<circle cx="242.3" cy="121.2" r="0.4" fill="#e02020"/>
<path d="M128.2 55.9C127.2 56.5 126.3 58.7 126.0 59.6C125.7 60.5 125.2 62.2 125.5 63.2C125.8 64.2 127.2 66.6 128.2 67.8C129.2 69.0 132.2 71.3 133.7 72.3C135.2 73.3 138.5 75.0 140.0 76.0C141.5 77.0 144.3 79.6 145.5 80.5C146.7 81.4 148.2 82.9 149.2 83.3C150.2 83.7 152.9 84.2 153.7 83.8C154.5 83.4 155.7 81.5 155.9 80.5C156.1 79.5 155.9 77.3 155.5 76.0C155.1 74.7 153.6 71.9 152.8 70.5C152.0 69.1 150.2 66.4 149.2 65.0C148.2 63.6 145.9 60.7 144.6 59.6C143.3 58.5 140.5 57.1 139.1 56.5C137.7 55.9 135.1 55.1 133.7 55.0C132.3 54.9 129.2 55.3 128.2 55.9Z" fill="none" stroke="#9aee16" stroke-width="1.3" stroke-linejoin="round" stroke-linecap="round"/>
<path d="M174.3 93.0C174.3 91.0 175.1 87.6 175.7 85.8C176.3 84.0 178.1 80.4 179.3 78.6C180.5 76.8 184.0 73.1 185.1 71.5C186.2 69.9 187.7 67.0 187.9 65.7C188.1 64.4 187.0 62.0 186.8 61.0C186.6 60.0 186.1 58.6 186.5 57.8C186.9 57.0 188.9 55.0 190.1 55.0C191.3 55.0 194.2 57.6 195.6 57.8C197.0 58.0 199.8 56.7 201.1 56.9C202.4 57.1 204.3 59.5 205.5 59.6C206.7 59.7 209.5 58.3 210.9 57.8C212.3 57.3 215.2 56.8 216.4 55.9C217.6 55.0 219.0 51.8 220.0 50.5C221.0 49.2 223.4 46.4 224.6 45.9C225.8 45.4 227.9 47.1 229.1 46.8C230.3 46.5 232.5 43.0 233.7 43.2C234.9 43.4 236.9 47.5 238.3 48.7C239.7 49.9 242.8 51.5 244.6 52.3C246.4 53.1 250.8 54.6 252.8 55.0C254.8 55.4 258.4 55.7 260.1 55.4C261.8 55.1 265.2 53.5 266.5 52.3C267.8 51.1 269.3 47.4 270.1 45.9C270.9 44.4 271.9 41.5 272.9 40.5C273.9 39.5 276.7 38.1 278.3 37.7C279.9 37.3 283.8 37.0 285.6 37.2C287.4 37.4 291.4 39.0 292.9 39.6C294.4 40.2 295.8 41.7 297.3 42.3C298.8 42.9 303.2 43.4 304.6 44.1C306.0 44.8 307.9 46.8 308.2 47.8C308.5 48.8 306.6 51.4 307.3 52.3C308.0 53.2 311.7 54.7 313.7 55.0C315.7 55.3 320.8 54.9 322.8 55.0C324.8 55.1 327.6 55.3 329.2 55.9C330.8 56.5 334.0 58.8 335.5 59.6C337.0 60.4 340.2 61.0 341.0 62.3C341.8 63.6 341.6 67.5 341.9 69.6C342.2 71.7 343.1 76.9 343.7 78.7C344.3 80.5 346.3 83.0 346.5 84.2C346.7 85.4 345.8 87.2 344.9 88.3C344.0 89.4 340.9 91.5 339.5 92.6C338.1 93.7 335.1 95.8 334.1 97.0C333.1 98.2 331.7 100.7 331.3 102.4C330.9 104.1 330.8 108.2 330.8 110.1C330.8 112.0 331.3 115.8 331.3 117.7C331.3 119.6 331.1 123.5 330.8 125.3C330.5 127.1 329.7 130.6 328.6 131.9C327.5 133.2 323.9 134.4 322.1 135.2C320.3 136.0 316.0 136.7 314.4 138.0C312.8 139.3 310.7 143.9 309.2 145.5C307.7 147.1 304.0 149.4 302.8 151.0C301.6 152.6 301.1 156.3 300.1 158.3C299.1 160.3 296.4 165.2 294.6 166.5C292.8 167.8 287.8 168.3 285.5 168.3C283.2 168.3 278.2 166.3 276.4 166.5C274.6 166.7 272.6 169.5 271.0 170.1C269.4 170.7 265.8 171.3 263.7 171.0C261.6 170.7 256.7 168.6 254.6 167.4C252.5 166.2 248.7 163.5 247.3 161.9C245.9 160.3 244.2 156.4 243.6 154.6C243.0 152.8 243.2 148.9 242.7 147.4C242.2 145.9 240.9 143.8 240.0 142.8C239.1 141.8 237.1 140.1 235.6 139.2C234.1 138.3 230.4 136.2 228.3 135.5C226.2 134.8 221.5 134.2 219.2 133.7C216.9 133.2 212.1 131.9 210.1 131.3C208.1 130.7 205.4 130.2 203.7 129.3C202.0 128.4 198.5 126.0 196.5 124.5C194.5 123.0 189.9 119.1 187.9 117.3C185.9 115.5 182.3 112.1 180.8 110.1C179.3 108.1 176.5 103.7 175.7 101.5C174.9 99.3 174.3 95.0 174.3 93.0Z" fill="none" stroke="#9aee16" stroke-width="1.3" stroke-linejoin="round" stroke-linecap="round"/>
<path d="M178.6 93.0C178.5 91.5 179.3 88.7 180.0 87.2C180.7 85.7 182.9 82.7 184.3 81.5C185.7 80.3 188.7 78.7 190.8 77.9C192.9 77.1 198.7 75.7 200.8 75.0C202.9 74.3 205.3 73.5 207.3 72.6C209.3 71.7 214.3 68.9 216.4 67.8C218.5 66.7 221.7 64.8 223.7 64.1C225.7 63.4 230.1 62.2 231.9 62.3C233.7 62.4 236.6 64.3 238.3 65.1C240.0 65.9 243.4 67.8 245.5 68.7C247.6 69.6 252.1 71.9 254.6 72.3C257.1 72.7 262.9 72.3 265.0 72.2C267.1 72.1 269.5 72.0 270.8 71.5C272.1 71.0 274.4 69.5 275.2 68.5C276.0 67.5 277.0 64.9 277.4 63.5C277.8 62.1 278.2 59.1 278.4 57.6C278.6 56.1 278.3 53.0 278.8 51.8C279.3 50.6 281.3 48.4 282.5 48.2C283.7 48.0 286.8 49.7 288.3 50.4C289.8 51.1 292.6 53.2 294.1 54.0C295.6 54.8 298.2 56.1 299.9 56.9C301.6 57.7 305.4 59.8 307.2 60.5C309.0 61.2 312.5 62.1 314.5 62.7C316.5 63.3 321.6 64.2 323.2 64.9C324.8 65.6 326.7 67.2 327.5 68.5C328.3 69.8 329.3 73.2 329.7 75.1C330.1 77.0 330.5 81.8 330.5 83.8C330.5 85.8 329.9 89.0 329.5 90.5C329.1 92.0 328.4 94.1 327.5 95.5C326.6 96.9 323.5 99.8 322.1 101.4C320.7 103.0 318.0 106.1 316.6 107.9C315.2 109.7 312.9 113.3 311.2 115.5C309.5 117.7 305.3 123.2 303.5 125.3C301.7 127.4 298.1 130.1 297.0 132.0C295.9 133.9 295.4 138.0 294.5 140.0C293.6 142.0 291.8 146.3 290.0 148.0C288.2 149.7 282.5 152.6 280.1 153.7C277.7 154.8 273.1 156.0 271.0 156.5C268.9 157.0 265.8 158.1 263.7 157.4C261.6 156.7 256.7 153.0 254.6 151.0C252.5 149.0 248.8 143.9 247.3 141.9C245.8 139.9 244.4 137.0 242.9 135.5C241.4 134.0 237.7 131.1 235.6 130.1C233.5 129.1 228.6 128.0 226.5 127.3C224.4 126.6 221.6 125.4 219.4 124.5C217.2 123.6 211.6 121.6 209.4 120.2C207.2 118.8 204.2 115.1 202.2 113.7C200.2 112.3 195.7 110.5 193.7 109.4C191.7 108.3 188.1 106.5 186.5 105.1C184.9 103.7 181.8 100.2 180.8 98.7C179.8 97.2 178.7 94.5 178.6 93.0Z" fill="none" stroke="#f2f01c" stroke-width="1.3" stroke-linejoin="round" stroke-linecap="round"/>
<path d="M266.8 88.0C267.2 88.2 269.1 89.7 270.1 89.6C271.1 89.5 273.4 87.8 274.7 86.9C276.0 86.0 279.1 83.8 280.1 82.4C281.1 81.0 282.0 77.6 282.9 76.0C283.8 74.4 286.1 70.9 287.4 69.6C288.7 68.3 291.3 66.6 292.9 66.0C294.5 65.4 298.5 64.7 300.0 64.5C301.5 64.3 303.1 64.4 304.6 64.5C306.1 64.6 310.1 64.6 311.9 65.1C313.7 65.6 317.6 67.5 319.1 68.7C320.6 69.9 323.3 72.7 323.7 74.2C324.1 75.7 322.7 78.8 321.9 80.5C321.1 82.2 318.6 86.2 317.3 87.8C316.0 89.4 313.5 92.1 311.9 93.3C310.3 94.5 306.4 96.1 304.6 96.9C302.8 97.7 298.5 98.5 297.3 99.7C296.1 100.9 295.9 104.7 295.5 106.0C295.1 107.3 294.9 108.8 294.3 110.1C293.7 111.4 291.4 114.9 290.5 116.6C289.6 118.3 288.0 121.9 287.4 123.3C286.8 124.7 285.9 126.8 285.5 128.0C285.1 129.2 284.7 131.5 284.0 133.0C283.3 134.5 280.9 138.5 280.0 139.5C279.1 140.5 278.0 140.3 276.8 140.7C275.6 141.1 272.2 142.5 270.5 142.5C268.8 142.5 264.8 141.5 263.2 140.7C261.6 139.9 258.9 137.5 257.7 136.2C256.5 134.9 254.6 131.4 254.1 130.7" fill="none" stroke="#ffa01e" stroke-width="1.3" stroke-linejoin="round" stroke-linecap="round"/>
<path d="M285.0 89.4C285.6 89.3 288.4 87.9 289.4 88.3C290.4 88.7 291.8 91.2 292.6 92.6C293.4 94.0 295.5 98.4 295.9 99.2" fill="none" stroke="#ffa01e" stroke-width="1.3" stroke-linejoin="round" stroke-linecap="round"/>
<path d="M266.8 88.0C265.9 88.1 261.6 88.3 259.5 88.9C257.4 89.5 252.5 91.6 250.5 92.5C248.5 93.4 245.6 95.8 244.1 96.2C242.6 96.6 240.1 95.6 238.6 95.3C237.1 95.0 233.8 94.0 232.3 93.5C230.8 93.0 228.2 91.3 226.8 91.6C225.4 91.9 222.7 94.9 221.4 96.2C220.1 97.5 217.3 100.0 216.8 101.6C216.3 103.2 217.2 107.2 217.7 108.9C218.2 110.6 219.6 113.8 220.5 115.3C221.4 116.8 223.7 119.4 225.0 120.7C226.3 122.0 229.1 124.4 230.5 125.3C231.9 126.2 234.5 127.4 235.9 128.0C237.3 128.6 239.8 129.0 241.4 129.8C243.0 130.6 247.0 133.3 248.6 134.4C250.2 135.5 252.3 137.3 254.0 138.5C255.7 139.7 260.0 142.7 262.0 143.5C264.0 144.3 269.0 144.4 270.0 144.5" fill="none" stroke="#ffa01e" stroke-width="1.3" stroke-linejoin="round" stroke-linecap="round"/>
<path d="M257.7 105.3C258.6 105.4 263.7 105.4 265.0 106.2C266.3 107.0 267.5 110.3 267.7 111.6C267.9 112.9 266.9 115.6 266.8 116.2" fill="none" stroke="#ffa01e" stroke-width="1.3" stroke-linejoin="round" stroke-linecap="round"/>
<path d="M162.8 35.8C164.0 35.2 169.6 31.2 172.1 30.8C174.6 30.4 181.2 32.5 182.5 32.8" fill="none" stroke="#12e812" stroke-width="1.44" stroke-linejoin="round" stroke-linecap="round"/>
<path d="M203.3 32.3C204.6 31.8 210.9 29.6 213.3 28.3C215.7 27.0 220.9 23.1 222.0 22.3" fill="none" stroke="#12e812" stroke-width="1.44" stroke-linejoin="round" stroke-linecap="round"/>
<path d="M237.7 15.3 L245.6 18.3" fill="none" stroke="#12e812" stroke-width="1.44" stroke-linejoin="round" stroke-linecap="round"/>
<path d="M245.2 18.6 L255.0 10.3" fill="none" stroke="#12e812" stroke-width="1.44" stroke-linejoin="round" stroke-linecap="round"/>
<path d="M304.9 6.6 L320.6 18.3" fill="none" stroke="#12e812" stroke-width="1.44" stroke-linejoin="round" stroke-linecap="round"/>
<path d="M335.6 31.5C336.6 32.3 341.4 35.7 343.1 37.8C344.8 39.9 348.5 47.0 349.3 48.3" fill="none" stroke="#12e812" stroke-width="1.44" stroke-linejoin="round" stroke-linecap="round"/>
<path d="M363.1 63.2 L374.3 81.5" fill="none" stroke="#12e812" stroke-width="1.44" stroke-linejoin="round" stroke-linecap="round"/>
<path d="M354.8 153.1C355.7 152.7 359.8 151.8 361.8 150.1C363.8 148.4 369.4 140.9 370.5 139.6" fill="none" stroke="#12e812" stroke-width="1.44" stroke-linejoin="round" stroke-linecap="round"/>
<path d="M315.6 163.9 L334.4 155.1" fill="none" stroke="#12e812" stroke-width="1.44" stroke-linejoin="round" stroke-linecap="round"/>
<path d="M278.2 182.6 L298.1 174.6" fill="none" stroke="#12e812" stroke-width="1.44" stroke-linejoin="round" stroke-linecap="round"/>
<path d="M255.7 181.3C257.1 181.5 264.3 182.3 266.9 182.6C269.5 182.9 275.2 183.6 276.4 183.8" fill="none" stroke="#12e812" stroke-width="1.44" stroke-linejoin="round" stroke-linecap="round"/>
<path d="M216.2 166.9 L236.2 175.6" fill="none" stroke="#12e812" stroke-width="1.44" stroke-linejoin="round" stroke-linecap="round"/>
<path d="M182.5 142.6 L198.8 156.4" fill="none" stroke="#12e812" stroke-width="1.44" stroke-linejoin="round" stroke-linecap="round"/>
<path d="M149.1 117.2 L167.8 128.2" fill="none" stroke="#12e812" stroke-width="1.44" stroke-linejoin="round" stroke-linecap="round"/>
<path d="M136.3 79.0C136.3 80.3 135.9 86.4 136.3 89.0C136.7 91.6 139.2 98.3 139.6 99.7" fill="none" stroke="#12e812" stroke-width="1.44" stroke-linejoin="round" stroke-linecap="round"/>
<path d="M137.1 60.7C138.2 60.4 143.7 58.7 145.8 58.3C147.9 57.9 152.0 58.2 153.3 57.8C154.6 57.4 155.5 55.2 155.8 54.8" fill="none" stroke="#12e812" stroke-width="1.44" stroke-linejoin="round" stroke-linecap="round"/>
<path d="M214.5 60.7C215.9 60.2 223.3 57.2 225.7 56.5C228.1 55.8 232.2 55.5 233.2 55.3" fill="none" stroke="#c8e81a" stroke-width="1.44" stroke-linejoin="round" stroke-linecap="butt"/>
<path d="M188.3 75.2 L197.0 72.2" fill="none" stroke="#c8e81a" stroke-width="1.44" stroke-linejoin="round" stroke-linecap="butt"/>
<path d="M212.0 135.7C213.1 136.1 218.6 138.0 221.0 139.0C223.4 140.0 229.5 143.3 230.7 143.9" fill="none" stroke="#c8e81a" stroke-width="1.44" stroke-linejoin="round" stroke-linecap="butt"/>
<path d="M190.8 111.4 L197.0 120.2" fill="none" stroke="#c8e81a" stroke-width="1.44" stroke-linejoin="round" stroke-linecap="butt"/>
<path d="M311.9 134.7C313.2 134.1 320.1 131.7 321.9 130.2C323.7 128.7 325.8 124.1 326.4 123.2" fill="none" stroke="#c8e81a" stroke-width="1.44" stroke-linejoin="round" stroke-linecap="butt"/>
<path d="M247.0 156.4C248.3 156.9 254.3 159.6 256.9 160.1C259.5 160.6 266.1 160.5 267.4 160.6" fill="none" stroke="#c8e81a" stroke-width="1.44" stroke-linejoin="round" stroke-linecap="butt"/>
<path d="M276.9 157.6C278.5 157.0 286.9 153.7 289.4 152.6C291.9 151.5 295.5 149.4 296.4 148.9" fill="none" stroke="#c8e81a" stroke-width="1.44" stroke-linejoin="round" stroke-linecap="butt"/>
<path d="M253.2 61.5C254.6 61.6 261.7 62.3 264.4 62.2C267.1 62.1 273.1 60.9 274.4 60.7" fill="none" stroke="#c8e81a" stroke-width="1.44" stroke-linejoin="round" stroke-linecap="butt"/>
<path d="M328.1 80.2C328.0 81.5 327.4 87.5 327.4 90.2C327.4 92.9 328.0 100.1 328.1 101.5" fill="none" stroke="#c8e81a" stroke-width="1.44" stroke-linejoin="round" stroke-linecap="butt"/>
<path d="M250.5 92.7C251.5 92.3 255.8 90.1 258.1 89.5C260.4 88.9 267.0 87.8 268.3 87.6" fill="none" stroke="#ffa01e" stroke-width="1.56" stroke-linejoin="round" stroke-linecap="butt"/>
<path d="M221.4 108.9C221.9 108.3 223.8 105.4 225.0 104.4C226.2 103.4 229.8 101.2 230.5 100.7" fill="none" stroke="#ffa01e" stroke-width="1.56" stroke-linejoin="round" stroke-linecap="butt"/>
<path d="M228.6 127.1C229.3 127.6 232.7 130.1 234.1 130.7C235.5 131.3 238.8 131.5 239.5 131.6" fill="none" stroke="#ffa01e" stroke-width="1.56" stroke-linejoin="round" stroke-linecap="butt"/>
<path d="M285.0 88.9C285.7 89.1 289.3 89.8 290.5 90.7C291.7 91.6 293.6 95.5 294.1 96.2" fill="none" stroke="#ffa01e" stroke-width="1.56" stroke-linejoin="round" stroke-linecap="butt"/>
<path d="M295.9 113.4C295.5 114.1 293.8 117.1 292.6 118.8C291.4 120.5 286.9 126.0 286.1 127.0" fill="none" stroke="#ffa01e" stroke-width="1.56" stroke-linejoin="round" stroke-linecap="butt"/>
<path d="M290.0 89.6 L292.2 96.0" fill="none" stroke="#ffa01e" stroke-width="1.56" stroke-linejoin="round" stroke-linecap="butt"/>
<path d="M309.4 64.4C310.2 64.7 314.3 66.1 315.9 67.1C317.5 68.1 321.4 70.8 322.3 72.2C323.2 73.6 323.1 77.3 323.2 78.0" fill="none" stroke="#ffa01e" stroke-width="1.56" stroke-linejoin="round" stroke-linecap="butt"/>
<path d="M233.3 102.7C233.8 102.8 236.1 103.2 237.0 103.6C237.9 104.0 239.9 105.3 240.3 105.5" fill="none" stroke="#1b62b6" stroke-width="2.1" stroke-linejoin="round" stroke-linecap="round"/>
<path d="M237.1 109.5C237.3 109.6 238.5 110.4 239.0 110.6C239.5 110.8 240.7 111.1 240.9 111.2" fill="none" stroke="#10161c" stroke-width="1.9" stroke-linejoin="round" stroke-linecap="round"/>
<path d="M240.6 110.7C240.9 110.8 242.1 111.2 242.6 111.3C243.1 111.4 244.4 111.6 244.7 111.6" fill="none" stroke="#1b62b6" stroke-width="1.9" stroke-linejoin="round" stroke-linecap="round"/>
<path d="M254.9 103.2C255.4 102.8 257.7 101.1 258.7 100.4C259.7 99.7 262.0 98.1 262.5 97.8" fill="none" stroke="#1b62b6" stroke-width="2.2" stroke-linejoin="round" stroke-linecap="round"/>
<path d="M258.2 99.8 L261.5 97.7" fill="none" stroke="#0c2c58" stroke-width="1.0" stroke-linejoin="round" stroke-linecap="round"/>
<path d="M275.3 135.0 L278.5 136.0" fill="none" stroke="#0c3c78" stroke-width="1.8" stroke-linejoin="round" stroke-linecap="round"/>
<path d="M273.4 96.5 L276.0 97.8" fill="none" stroke="#30120c" stroke-width="1.1" stroke-linejoin="round" stroke-linecap="round"/>
<path d="M269.5 111.2 L272.7 109.9" fill="none" stroke="#30120c" stroke-width="1.2" stroke-linejoin="round" stroke-linecap="round"/>
<path d="M225.3 140.2 L227.8 139.8" fill="none" stroke="#1a70c0" stroke-width="1.7" stroke-linejoin="round" stroke-linecap="round"/>
<path d="M268.2 159.4 L270.4 159.6" fill="none" stroke="#0a1c30" stroke-width="2.2" stroke-linejoin="round" stroke-linecap="round"/>
<path d="M270.0 159.5 L272.8 160.2" fill="none" stroke="#1560b4" stroke-width="2.0" stroke-linejoin="round" stroke-linecap="round"/>
<path d="M277.0 120.2 L280.2 118.6" fill="none" stroke="#0b3c78" stroke-width="1.2" stroke-linejoin="round" stroke-linecap="round"/>
<path d="M240.6 156.8 L241.8 156.8" fill="none" stroke="#4a90d0" stroke-width="1.2" stroke-linejoin="round" stroke-linecap="round"/>
<path d="M194.3 50.9 L196.2 49.4" fill="none" stroke="#0e4576" stroke-width="3.0" stroke-linejoin="round" stroke-linecap="round"/>
<path d="M342.1 112.7 L349.0 112.7" fill="none" stroke="#f2b4c0" stroke-width="1.2" stroke-linejoin="round" stroke-linecap="round"/>
<path d="M349.0 112.7 L356.8 112.5" fill="none" stroke="#a6c8ea" stroke-width="1.2" stroke-linejoin="round" stroke-linecap="round"/>
<circle cx="257.8" cy="121.8" r="3.2" fill="#d8d8c8" opacity="0.6"/>
<circle cx="260.5" cy="124.6" r="6.6" fill="url(#brown)"/>
<polygon points="254.95,112.00 256.65,116.45 261.42,116.70 257.71,119.70 258.95,124.30 254.95,121.70 250.95,124.30 252.19,119.70 248.48,116.70 253.25,116.45" fill="#f3141c"/>
</g>
</defs>
<rect width="550" height="489" fill="#ffffff"/>
<use href="#grid"/>
<use href="#ov"/>
<rect x="108.5" y="6.5" width="266" height="212" fill="none" stroke="#707070" stroke-width="1"/>
<g stroke="#222" stroke-width="1"><line x1="102.3" y1="59.5" x2="108.6" y2="59.5"/><line x1="102.3" y1="165.6" x2="108.6" y2="165.6"/><line x1="215" y1="218.1" x2="215" y2="224.7"/><line x1="321.1" y1="218.1" x2="321.1" y2="224.7"/></g>
<g font-weight="bold" font-size="11.5" fill="#111"><text x="98.4" y="63.5" text-anchor="end">43.0°N</text><text x="98.4" y="169.6" text-anchor="end">42.5°N</text><text x="215.6" y="236.6" text-anchor="middle">13.0°E</text><text x="321.7" y="236.6" text-anchor="middle">13.5°E</text></g>
<rect x="119.4" y="195.1" width="51" height="6" fill="#fff" stroke="#000" stroke-width="1"/><rect x="119.4" y="195.1" width="25.7" height="6" fill="#000"/>
<g font-weight="bold" font-size="11.3" fill="#000"><text x="119.4" y="187.8" text-anchor="middle">0</text><text x="145" y="187.8" text-anchor="middle">10</text><text x="165" y="187.8">20 km</text></g>
<g font-size="12" fill="#111"><text x="86.3" y="230">(a)</text><text x="14.6" y="430">(b)</text><text x="310" y="429.8">(c)</text></g>
<g transform="translate(-51.81 243.74) scale(0.8010)">
<g clip-path="url(#clipB)"><use href="#grid"/></g>
<use href="#ovs"/>
</g>
<rect x="35.50" y="248.5" width="212.7" height="169.7" fill="none" stroke="#8e8e8e" stroke-width="1"/>
<g stroke="#222" stroke-width="1"><line x1="30.6" y1="291.4" x2="35.2" y2="291.4"/><line x1="30.6" y1="376.4" x2="35.2" y2="376.4"/><line x1="120.4" y1="418.4" x2="120.4" y2="423.2"/><line x1="205.4" y1="418.4" x2="205.4" y2="423.2"/></g>
<g font-weight="bold" font-size="8" fill="#111"><text x="26.9" y="294.2" text-anchor="end">43.0°N</text><text x="26.9" y="379.2" text-anchor="end">42.5°N</text><text x="120.7" y="432.7" text-anchor="middle">13.0°E</text><text x="205.7" y="432.7" text-anchor="middle">13.5°E</text></g>
<g transform="translate(242.19 243.74) scale(0.8010)">
<g clip-path="url(#clipC)"><use href="#grid"/></g>
<use href="#ovs"/>
</g>
<rect x="329.50" y="248.5" width="212.7" height="169.7" fill="none" stroke="#8e8e8e" stroke-width="1"/>
<g stroke="#222" stroke-width="1"><line x1="324.6" y1="291.4" x2="329.2" y2="291.4"/><line x1="324.6" y1="376.4" x2="329.2" y2="376.4"/><line x1="414.4" y1="418.4" x2="414.4" y2="423.2"/><line x1="499.4" y1="418.4" x2="499.4" y2="423.2"/></g>
<g font-weight="bold" font-size="8" fill="#111"><text x="320.9" y="294.2" text-anchor="end">43.0°N</text><text x="320.9" y="379.2" text-anchor="end">42.5°N</text><text x="414.7" y="432.7" text-anchor="middle">13.0°E</text><text x="499.7" y="432.7" text-anchor="middle">13.5°E</text></g>
<circle cx="396.2" cy="13.4" r="3.4" fill="url(#shadow)"/>
<polygon points="392.90,5.80 393.84,8.21 396.42,8.36 394.42,9.99 395.07,12.49 392.90,11.10 390.73,12.49 391.38,9.99 389.38,8.36 391.96,8.21" fill="#f3141c"/>
<g font-size="7.8" fill="#111">
<text x="398.6" y="11.7">Mainshock, M 6.2</text>
<text x="385" y="26.1">MMI</text>
<text x="414" y="36.1">5</text><text x="414" y="46.1">5.5</text><text x="414" y="55.9">6</text><text x="414" y="65.7">6.5</text>
<text x="385" y="79.8">PGA</text>
<text x="425" y="88.9">0.05g</text><text x="425" y="98.5">0.1g</text><text x="425" y="108.7">0.2g</text>
<text x="399" y="119.5">Reported Landslide</text>
<text x="385" y="133.4">Landslide Probability</text>
<text x="389.4" y="156.5" font-size="8.3">0</text><text x="479.4" y="156.5" text-anchor="end" font-size="8.3">&lt;1%</text>
<text x="385" y="171.9">Liquefaction Probability</text>
<text x="389.4" y="194.8" font-size="8.3">0</text><text x="479.4" y="194.8" text-anchor="end" font-size="8.3">&lt;1%</text>
</g>
<g stroke-width="2" stroke-linecap="butt"><line x1="388" y1="32" x2="412.6" y2="32" stroke="#9aee16"/><line x1="388" y1="42" x2="412.6" y2="42" stroke="#ffa81e"/><line x1="388" y1="52" x2="412.6" y2="52" stroke="#ff4d12"/><line x1="388" y1="61.7" x2="412.6" y2="61.7" stroke="#ff2814"/></g>
<g stroke-width="2.2"><path d="M388 85.6H401.6M411 85.6H423.6" stroke="#12e812"/><path d="M388 95.2H401.6M411 95.2H423.6" stroke="#c8e81a"/><path d="M388 104.8H401.6M411 104.8H423.6" stroke="#ffa01e"/></g>
<circle cx="392.6" cy="117" r="3" fill="#ff8212"/>
<rect x="388" y="139" width="91" height="7.7" fill="url(#lsg)"/>
<rect x="388" y="177" width="91" height="8.2" fill="url(#lqg)"/>
<rect x="117.0" y="443.7" width="48.8" height="10.9" fill="#fb1b18"/>
<rect x="165.5" y="443.7" width="49.4" height="10.9" fill="#fc5934"/>
<rect x="214.6" y="443.7" width="29.7" height="10.9" fill="#fd8d50"/>
<rect x="244.0" y="443.7" width="18.8" height="10.9" fill="#fdda96"/>
<rect x="262.5" y="443.7" width="18.9" height="10.9" fill="#fffdbf"/>
<rect x="281.1" y="443.7" width="19.0" height="10.9" fill="#d4edcc"/>
<rect x="299.8" y="443.7" width="19.2" height="10.9" fill="#a8dbe0"/>
<rect x="318.7" y="443.7" width="29.8" height="10.9" fill="#72bbe0"/>
<rect x="348.2" y="443.7" width="49.1" height="10.9" fill="#2a9ad2"/>
<rect x="397.0" y="443.7" width="49.3" height="10.9" fill="#0878bc"/>
<g font-size="9.7" fill="#111" text-anchor="middle"><text x="166" y="464.5">-0.2</text><text x="214.6" y="464.5">-0.1</text><text x="244.9" y="464.5">-0.05</text><text x="280.7" y="464.5">0</text><text x="318.7" y="464.5">0.05</text><text x="348.2" y="464.5">0.1</text><text x="398" y="464.5">0.2</text></g>
<text x="193.3" y="482.6" font-size="13.15" fill="#111">Soil Moisture Change (cm<tspan font-size="9.5" dy="-4.6">3</tspan><tspan dy="4.6">/cm</tspan><tspan font-size="9.5" dy="-4.6">3</tspan><tspan dy="4.6">)</tspan></text>
</svg>
</body></html>
